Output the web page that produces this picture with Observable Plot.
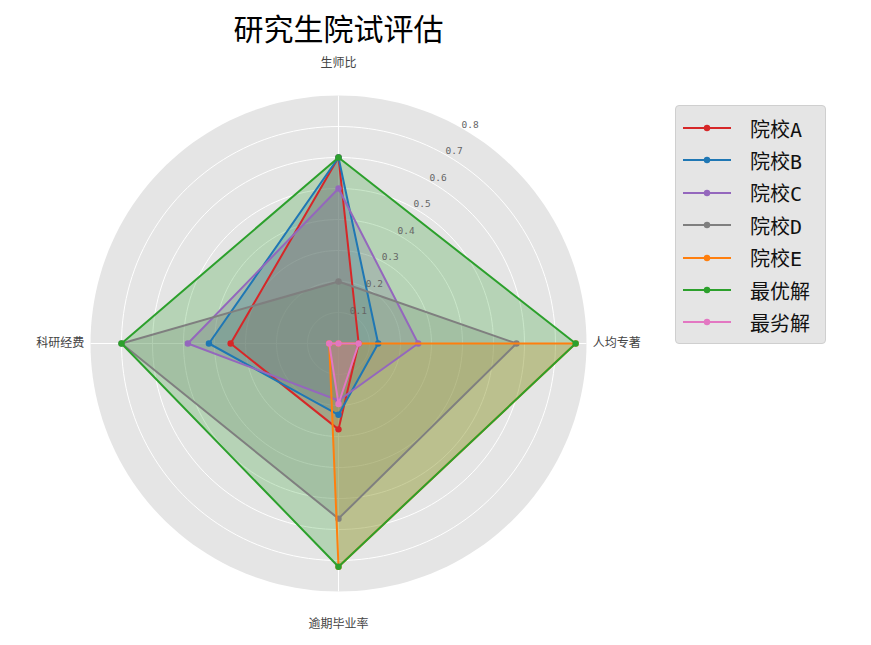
<!DOCTYPE html>
<html><head><meta charset="utf-8">
<script src="https://cdn.jsdelivr.net/npm/d3@7"></script>
<script src="https://cdn.jsdelivr.net/npm/@observablehq/plot@0.6"></script>
<style>
body{margin:0;background:#fff;}
#wrap{position:relative;width:871px;height:645px;overflow:hidden;}
#legend{position:absolute;left:675px;top:105px;width:151px;height:239px;box-sizing:border-box;background:#e5e5e5;border:1px solid #cfcfcf;border-radius:4px;font-family:"DejaVu Sans Mono","Noto Sans CJK SC",monospace;font-size:20px;color:#111;}
.row{position:absolute;left:6px;height:30px;display:flex;align-items:center;}
.row span{margin-left:18px;}
</style></head><body><div id="wrap"><div id="legend"></div></div>
<script>
const title = "研究生院试评估";
const dimensions = ["生师比", "人均专著", "逾期毕业率", "科研经费"];
const seriesNames = ["院校A", "院校B", "院校C", "院校D", "院校E", "最优解", "最劣解"];
const seriesColors = ["#d62728", "#1f77b4", "#9467bd", "#7f7f7f", "#ff7f0e", "#2ca02c", "#e377c2"];
const valuesA = [0.60, 0.065, 0.277, 0.348];
const valuesB = [0.60, 0.128, 0.230, 0.418];
const valuesC = [0.50, 0.257, 0.184, 0.486];
const valuesD = [0.20, 0.574, 0.565, 0.700];
const valuesE = [0.00, 0.765, 0.720, 0.030];
const valuesBest = [0.60, 0.765, 0.720, 0.700];
const valuesWorst = [0.00, 0.065, 0.195, 0.030];
const radialTicks = [0.1, 0.2, 0.3, 0.4, 0.5, 0.6, 0.7, 0.8];
const rMax = 0.8;

const allValues = [valuesA, valuesB, valuesC, valuesD, valuesE, valuesBest, valuesWorst];
const nDim = dimensions.length;
const angleOf = i => (i / nDim) * 2 * Math.PI; // clockwise from top
const px = (r, a) => r * Math.sin(a);
const py = (r, a) => r * Math.cos(a);

// background disc and rings
const circlePts = (r, key) => d3.range(0, 361, 2).map(d => {
  const a = d * Math.PI / 180;
  return {key, x: px(r, a), y: py(r, a)};
});
const disc = circlePts(rMax, "disc");
const rings = radialTicks.filter(t => t < rMax).flatMap(t => circlePts(t, t));
const spokes = dimensions.map((name, i) => ({x1: 0, y1: 0, x2: px(rMax, angleOf(i)), y2: py(rMax, angleOf(i))}));

// series polygons
const seriesData = allValues.map((vals, s) => {
  const pts = vals.map((v, i) => ({name: seriesNames[s], x: px(v, angleOf(i)), y: py(v, angleOf(i))}));
  return {pts, closed: [...pts, pts[0]], color: seriesColors[s]};
});

// tick labels along an angle
const labAngle = 31 * Math.PI / 180;
const tickLabels = radialTicks.map(t => ({t, x: px(t + 0.024, labAngle), y: py(t + 0.024, labAngle)}));

// category labels
const catLabels = dimensions.map((name, i) => {
  const a = angleOf(i);
  const horiz = Math.abs(Math.sin(a)) > 0.5;
  const r = horiz ? 0.82 : 0.905;
  return {name, x: px(r, a), y: py(r, a), anchor: horiz ? (Math.sin(a) > 0 ? "start" : "end") : "middle"};
});

const marks = [
  Plot.line(disc, {x: "x", y: "y", fill: "#e5e5e5", stroke: "none"}),
  Plot.line(rings, {x: "x", y: "y", z: "key", stroke: "white", strokeWidth: 1}),
  Plot.link(spokes, {x1: "x1", y1: "y1", x2: "x2", y2: "y2", stroke: "white", strokeWidth: 1}),
];
seriesData.forEach(s => {
  marks.push(Plot.line(s.closed, {x: "x", y: "y", fill: s.color, fillOpacity: 0.25, stroke: "none"}));
});
seriesData.forEach(s => {
  marks.push(Plot.line(s.closed, {x: "x", y: "y", stroke: s.color, strokeWidth: 2, strokeLinejoin: "miter"}));
  marks.push(Plot.dot(s.pts, {x: "x", y: "y", r: 3.2, fill: s.color, stroke: "none"}));
});
marks.push(
  Plot.text(tickLabels, {x: "x", y: "y", text: d => d.t.toFixed(1), fontSize: 9.5, fill: "#666", fontFamily: "DejaVu Sans Mono, monospace"}),
  Plot.text(catLabels.filter(d => d.anchor === "middle"), {x: "x", y: "y", text: "name", textAnchor: "middle", fontSize: 12, fill: "#444"}),
  Plot.text(catLabels.filter(d => d.anchor === "start"), {x: "x", y: "y", text: "name", textAnchor: "start", fontSize: 12, fill: "#444"}),
  Plot.text(catLabels.filter(d => d.anchor === "end"), {x: "x", y: "y", text: "name", textAnchor: "end", fontSize: 12, fill: "#444"}),
  Plot.text([title], {frameAnchor: "top", lineAnchor: "middle", dy: -65, text: d => d, fontSize: 30, fill: "#000"})
);

const chart = Plot.plot({
  width: 871,
  height: 645,
  marginLeft: 90,
  marginRight: 285,
  marginTop: 95,
  marginBottom: 54,
  x: {domain: [-rMax, rMax], axis: null},
  y: {domain: [-rMax, rMax], axis: null},
  style: {fontFamily: "'Noto Sans CJK SC', sans-serif", background: "#fff", overflow: "visible"},
  marks
});
document.getElementById("wrap").prepend(chart);

// legend
const legend = document.getElementById("legend");
seriesNames.forEach((name, i) => {
  const row = document.createElement("div");
  row.className = "row";
  row.style.top = (7 + i * 32.4) + "px";
  row.innerHTML = `<svg width="50" height="10"><line x1="1" y1="5" x2="49" y2="5" stroke="${seriesColors[i]}" stroke-width="2"/><circle cx="25" cy="5" r="3.2" fill="${seriesColors[i]}"/></svg><span>${name}</span>`;
  legend.appendChild(row);
});
</script>
</body></html>
